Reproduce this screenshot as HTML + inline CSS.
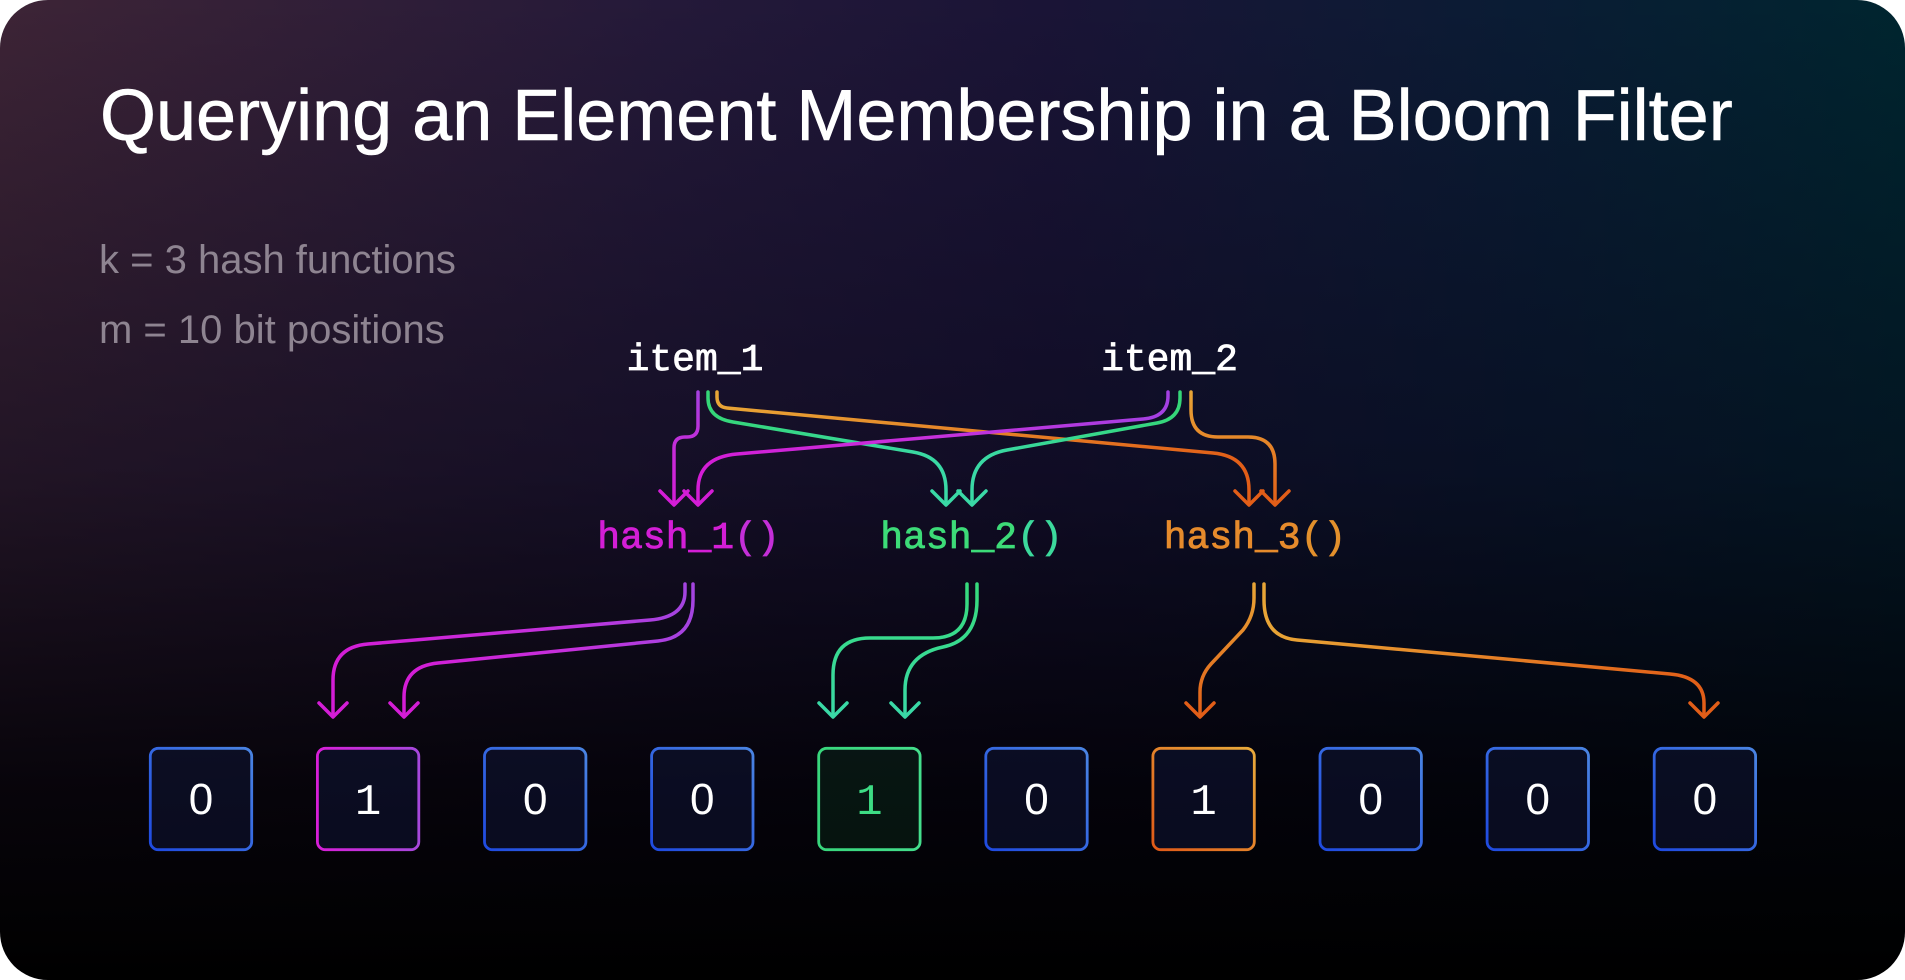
<!DOCTYPE html>
<html>
<head>
<meta charset="utf-8">
<style>
  html,body{margin:0;padding:0;width:1905px;height:980px;overflow:hidden;background:#ffffff;}
  .card{position:absolute;left:0;top:0;width:1905px;height:980px;border-radius:48px;overflow:hidden;
    background:
      linear-gradient(180deg, rgba(6,5,20,0) 0%, rgba(6,5,20,0.5) 48%, rgba(2,1,6,0.9) 80%, #000 100%),
      linear-gradient(90deg, #3d2436 0%, #241939 35%, #1a1436 55%, #0a1c34 80%, #00252f 100%);
  }
  svg{position:absolute;left:0;top:0;}
  .mono{font-family:"Liberation Mono","DejaVu Sans Mono",monospace;}
  .sans{font-family:"Liberation Sans","DejaVu Sans",sans-serif;}
</style>
</head>
<body>
<div class="card"></div>
<svg width="1905" height="980" viewBox="0 0 1905 980" xmlns="http://www.w3.org/2000/svg">
  <defs>
    <linearGradient id="gP1" gradientUnits="userSpaceOnUse" x1="0" y1="392" x2="0" y2="505">
      <stop offset="0" stop-color="#a640e0"/><stop offset="0.55" stop-color="#c82ad8"/><stop offset="1" stop-color="#d41dd6"/>
    </linearGradient>
    <linearGradient id="gP2" gradientUnits="userSpaceOnUse" x1="1168" y1="0" x2="698" y2="0">
      <stop offset="0" stop-color="#a440e2"/><stop offset="0.5" stop-color="#c631dc"/><stop offset="1" stop-color="#d41dd6"/>
    </linearGradient>
    <linearGradient id="gP3" gradientUnits="userSpaceOnUse" x1="708" y1="0" x2="946" y2="0">
      <stop offset="0" stop-color="#35d678"/><stop offset="1" stop-color="#3ad9a6"/>
    </linearGradient>
    <linearGradient id="gP4" gradientUnits="userSpaceOnUse" x1="717" y1="0" x2="1249" y2="0">
      <stop offset="0" stop-color="#e8a536"/><stop offset="1" stop-color="#e25e18"/>
    </linearGradient>
    <linearGradient id="gP5" gradientUnits="userSpaceOnUse" x1="1180" y1="0" x2="972" y2="0">
      <stop offset="0" stop-color="#35d678"/><stop offset="1" stop-color="#3ad9a6"/>
    </linearGradient>
    <linearGradient id="gP6" gradientUnits="userSpaceOnUse" x1="0" y1="392" x2="0" y2="505">
      <stop offset="0" stop-color="#e8a536"/><stop offset="1" stop-color="#e25e18"/>
    </linearGradient>
    <linearGradient id="gB1" gradientUnits="userSpaceOnUse" x1="685" y1="0" x2="333" y2="0">
      <stop offset="0" stop-color="#a444e0"/><stop offset="0.4" stop-color="#c431dc"/><stop offset="1" stop-color="#d41dd6"/>
    </linearGradient>
    <linearGradient id="gB2" gradientUnits="userSpaceOnUse" x1="693" y1="0" x2="404" y2="0">
      <stop offset="0" stop-color="#a444e0"/><stop offset="0.4" stop-color="#c431dc"/><stop offset="1" stop-color="#d41dd6"/>
    </linearGradient>
    <linearGradient id="gB3" gradientUnits="userSpaceOnUse" x1="0" y1="584" x2="0" y2="717">
      <stop offset="0" stop-color="#37da7c"/><stop offset="1" stop-color="#3ad9a6"/>
    </linearGradient>
    <linearGradient id="gB5" gradientUnits="userSpaceOnUse" x1="0" y1="584" x2="0" y2="717">
      <stop offset="0" stop-color="#e8a536"/><stop offset="1" stop-color="#e25e18"/>
    </linearGradient>
    <linearGradient id="gB6" gradientUnits="userSpaceOnUse" x1="1264" y1="0" x2="1704" y2="0">
      <stop offset="0" stop-color="#e8a536"/><stop offset="1" stop-color="#e25e18"/>
    </linearGradient>
    <linearGradient id="bBlue" x1="0" y1="1" x2="1" y2="0">
      <stop offset="0" stop-color="#1f4ae0"/><stop offset="1" stop-color="#4a84e2"/>
    </linearGradient>
    <linearGradient id="bMag" x1="0" y1="0" x2="1" y2="0">
      <stop offset="0" stop-color="#d81ed8"/><stop offset="1" stop-color="#a648dc"/>
    </linearGradient>
    <linearGradient id="bGreen" x1="0" y1="0" x2="1" y2="0">
      <stop offset="0" stop-color="#38d67c"/><stop offset="1" stop-color="#44de8c"/>
    </linearGradient>
    <linearGradient id="bOrange" x1="0" y1="1" x2="1" y2="0">
      <stop offset="0" stop-color="#e05a18"/><stop offset="1" stop-color="#e9ab3c"/>
    </linearGradient>
  </defs>

  <text x="100" y="140" class="sans" font-size="72" fill="#ffffff" stroke="#ffffff" stroke-width="0.6">Querying an Element Membership in a Bloom Filter</text>
  <text x="99" y="273" class="sans" font-size="40" fill="#8e8491">k = 3 hash functions</text>
  <text x="99" y="343" class="sans" font-size="40" fill="#8e8491">m = 10 bit positions</text>

  <text x="695" y="370" class="mono" font-size="38" fill="#ffffff" stroke="#ffffff" stroke-width="0.8" text-anchor="middle">item_1</text>
  <text x="1169.5" y="370" class="mono" font-size="38" fill="#ffffff" stroke="#ffffff" stroke-width="0.8" text-anchor="middle">item_2</text>

  <text x="688.5" y="548" class="mono" font-size="38" text-anchor="middle" stroke-width="0.8"><tspan fill="#d31ed6" stroke="#d31ed6">hash_1</tspan><tspan fill="#c42fd8" stroke="#c42fd8">()</tspan></text>
  <text x="971.5" y="548" class="mono" font-size="38" text-anchor="middle" stroke-width="0.8"><tspan fill="#3ddb78" stroke="#3ddb78">hash_2</tspan><tspan fill="#3cd99c" stroke="#3cd99c">()</tspan></text>
  <text x="1255" y="548" class="mono" font-size="38" text-anchor="middle" stroke-width="0.8"><tspan fill="#e68b2c" stroke="#e68b2c">hash_3</tspan><tspan fill="#e3902c" stroke="#e3902c">()</tspan></text>

  <g fill="none" stroke-width="3.5" stroke-linecap="round" stroke-linejoin="round">
    <path d="M1191 392 V410 Q1191 437 1218 437 H1248 Q1275 437 1275 464 V504" stroke="url(#gP6)"/>
    <path d="M717 392 V397 Q717 407 727 408 L1213 453 Q1249 456.3 1249 490 V504" stroke="url(#gP4)"/>
    <path d="M708 392 V398 Q708 418 733 422 L913 452 Q946 457.5 946 490 V504" stroke="url(#gP3)"/>
    <path d="M1180 392 V398 Q1180 419 1157 423 L1007 450 Q972 456.3 972 490 V504" stroke="url(#gP5)"/>
    <path d="M1168 392 V396 Q1168 417 1143 419 L737 454 Q698 457.4 698 490 V504" stroke="url(#gP2)"/>
    <path d="M698 392 V426 Q698 437 687 437 H685 Q674 437 674 448 V504" stroke="url(#gP1)"/>

    <polyline points="660,491 674,505 688,491" stroke="#d41dd6"/>
    <polyline points="684,491 698,505 712,491" stroke="#d41dd6"/>
    <polyline points="932,491 946,505 960,491" stroke="#3ad9a6"/>
    <polyline points="958,491 972,505 986,491" stroke="#3ad9a6"/>
    <polyline points="1235,491 1249,505 1263,491" stroke="#e25e18"/>
    <polyline points="1261,491 1275,505 1289,491" stroke="#e25e18"/>

    <path d="M685 584 V592 Q685 617 650 620 L368 644 Q333 647 333 680 V716" stroke="url(#gB1)"/>
    <path d="M693 584 V600 Q693 637.5 658 641 L438 663 Q404 666.4 404 697 V716" stroke="url(#gB2)"/>
    <path d="M967 584 V604 Q967 638 933 638 H870 Q833 638 833 675 V716" stroke="url(#gB3)"/>
    <path d="M977 584 V600 Q977 640 943 647 Q905 655 905 690 V716" stroke="url(#gB3)"/>
    <path d="M1254 584 V598 Q1254 616 1243 630 L1211 664 Q1200 676 1200 692 V716" stroke="url(#gB5)"/>
    <path d="M1264 584 V600 Q1264 637 1297 640 L1670 674 Q1704 677 1704 703 V716" stroke="url(#gB6)"/>

    <polyline points="319,703 333,717 347,703" stroke="#d41dd6"/>
    <polyline points="390,703 404,717 418,703" stroke="#d41dd6"/>
    <polyline points="819,703 833,717 847,703" stroke="#3ad9a6"/>
    <polyline points="891,703 905,717 919,703" stroke="#3ad9a6"/>
    <polyline points="1186,703 1200,717 1214,703" stroke="#e25e18"/>
    <polyline points="1690,703 1704,717 1718,703" stroke="#e25e18"/>
  </g>

  <g stroke-width="2.8">
    <rect x="150.3" y="748.3" width="101.4" height="101.4" rx="8" fill="rgba(18,24,62,0.45)" stroke="url(#bBlue)"/>
    <rect x="317.4" y="748.3" width="101.4" height="101.4" rx="8" fill="rgba(18,24,62,0.45)" stroke="url(#bMag)"/>
    <rect x="484.5" y="748.3" width="101.4" height="101.4" rx="8" fill="rgba(18,24,62,0.45)" stroke="url(#bBlue)"/>
    <rect x="651.6" y="748.3" width="101.4" height="101.4" rx="8" fill="rgba(18,24,62,0.45)" stroke="url(#bBlue)"/>
    <rect x="818.7" y="748.3" width="101.4" height="101.4" rx="8" fill="rgba(14,70,36,0.28)" stroke="url(#bGreen)"/>
    <rect x="985.8" y="748.3" width="101.4" height="101.4" rx="8" fill="rgba(18,24,62,0.45)" stroke="url(#bBlue)"/>
    <rect x="1152.9" y="748.3" width="101.4" height="101.4" rx="8" fill="rgba(18,24,62,0.45)" stroke="url(#bOrange)"/>
    <rect x="1320.0" y="748.3" width="101.4" height="101.4" rx="8" fill="rgba(18,24,62,0.45)" stroke="url(#bBlue)"/>
    <rect x="1487.1" y="748.3" width="101.4" height="101.4" rx="8" fill="rgba(18,24,62,0.45)" stroke="url(#bBlue)"/>
    <rect x="1654.2" y="748.3" width="101.4" height="101.4" rx="8" fill="rgba(18,24,62,0.45)" stroke="url(#bBlue)"/>
  </g>

  <g font-size="44" text-anchor="middle" fill="#ffffff">
    <text x="201" y="814" class="sans">0</text>
    <text x="368.1" y="814" class="mono">1</text>
    <text x="535.2" y="814" class="sans">0</text>
    <text x="702.3" y="814" class="sans">0</text>
    <text x="869.4" y="814" class="mono" fill="#3ddc84">1</text>
    <text x="1036.5" y="814" class="sans">0</text>
    <text x="1203.6" y="814" class="mono">1</text>
    <text x="1370.7" y="814" class="sans">0</text>
    <text x="1537.8" y="814" class="sans">0</text>
    <text x="1704.9" y="814" class="sans">0</text>
  </g>
</svg>
</body>
</html>
